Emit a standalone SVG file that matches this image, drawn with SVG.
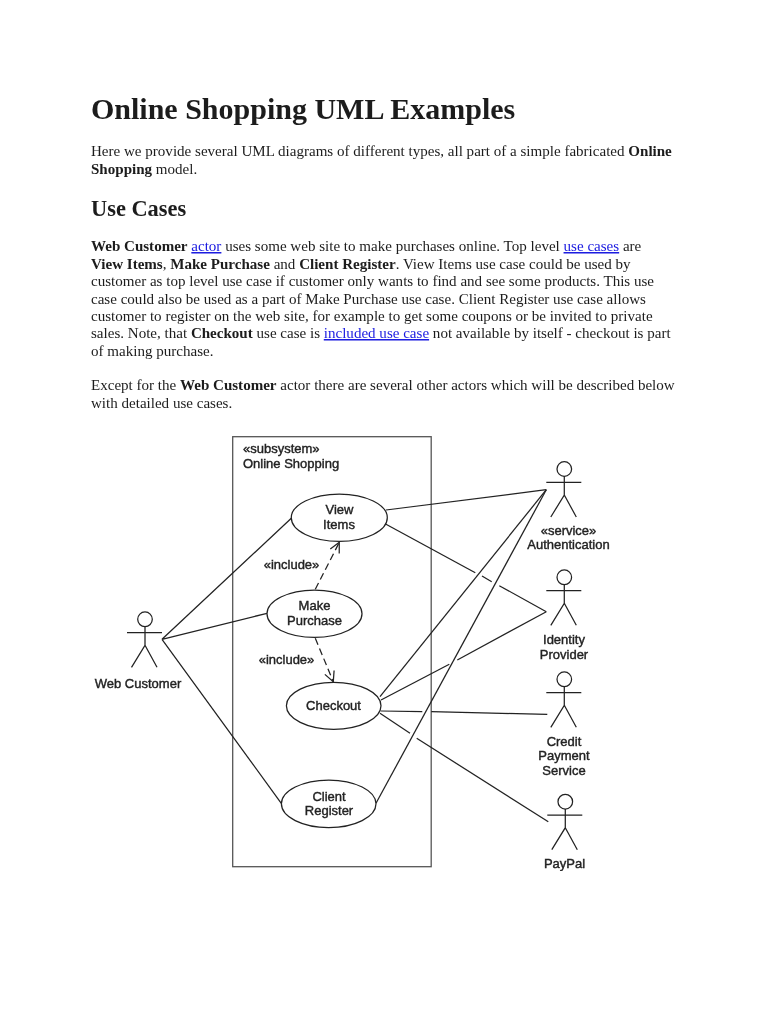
<svg xmlns="http://www.w3.org/2000/svg" width="768" height="1024" viewBox="0 0 768 1024">
<style>
text{font-family:"Liberation Serif","Times New Roman",serif;fill:#1c1c1c}
.p{font-size:15.05px}
.b{font-weight:bold}
.l{fill:#1a1ae0;text-decoration:underline}
.d{font-family:"Liberation Sans",Arial,sans-serif;font-size:13px;text-anchor:middle;fill:#222;stroke:#222;stroke-width:.4}
.s{fill:none;stroke:#222;stroke-width:1.25}
.u{fill:#fff;stroke:#222;stroke-width:1.25}
.dash{fill:none;stroke:#222;stroke-width:1.25;stroke-dasharray:7 4;marker-end:url(#open)}
</style>
<defs>
<filter id="soft" x="0" y="0" width="1" height="1"><feGaussianBlur stdDeviation="0.35"/></filter>
<marker id="open" markerUnits="userSpaceOnUse" markerWidth="16" markerHeight="16" refX="13" refY="8" orient="auto"><path d="M3 3L13 8L3 13" fill="none" stroke="#222" stroke-width="1.25"/></marker>
<g id="actor"><circle cx="0" cy="0" r="7.3" class="u"/><path class="s" d="M-18 13.3H17M0 7.3V26L-13.5 48M0 26L12 48"/></g>
</defs>
<rect width="768" height="1024" fill="#fff"/>
<g filter="url(#soft)">
<g id="page-text">
<text x="91" y="119" font-size="30" font-weight="bold">Online Shopping UML Examples</text>
<text class="p" x="91" y="156">Here we provide several UML diagrams of different types, all part of a simple fabricated <tspan class="b">Online</tspan></text>
<text class="p" x="91" y="174"><tspan class="b">Shopping</tspan> model.</text>
<text x="91" y="216" font-size="22.4" font-weight="bold">Use Cases</text>
<text class="p" x="91" y="251"><tspan class="b">Web Customer</tspan> <tspan class="l">actor</tspan> uses some web site to make purchases online. Top level <tspan class="l">use cases</tspan> are</text>
<text class="p" x="91" y="269"><tspan class="b">View Items</tspan>, <tspan class="b">Make Purchase</tspan> and <tspan class="b">Client Register</tspan>. View Items use case could be used by</text>
<text class="p" x="91" y="286">customer as top level use case if customer only wants to find and see some products. This use</text>
<text class="p" x="91" y="303.5">case could also be used as a part of Make Purchase use case. Client Register use case allows</text>
<text class="p" x="91" y="321">customer to register on the web site, for example to get some coupons or be invited to private</text>
<text class="p" x="91" y="338">sales. Note, that <tspan class="b">Checkout</tspan> use case is <tspan class="l">included use case</tspan> not available by itself - checkout is part</text>
<text class="p" x="91" y="355.5">of making purchase.</text>
<text class="p" x="91" y="390">Except for the <tspan class="b">Web Customer</tspan> actor there are several other actors which will be described below</text>
<text class="p" x="91" y="407.5">with detailed use cases.</text>
</g>
<g id="subsystem">
<rect x="232.7" y="436.7" width="198.5" height="430" fill="none" stroke="#555" stroke-width="1.3"/>
<text class="d" x="243" y="453" style="text-anchor:start">«subsystem»</text>
<text class="d" x="243" y="467.5" style="text-anchor:start">Online Shopping</text>
</g>
<g id="connectors">
<path class="s" d="M162 639.3L291.3 518.3M162 639.3L267 613.3M162 639.3L281.3 803.3"/>
<path class="s" d="M386 510L546.3 489.7"/>
<path class="s" d="M386 524.3L475.3 572.7M482 576L491.7 581.7M499.3 585.7L546.3 611.7"/>
<path class="s" d="M380 696.7L546.3 489.7"/>
<path class="s" d="M381 700L449.3 664.3M457.3 660L546.3 611.7"/>
<path class="s" d="M376 803.3L546.3 489.7"/>
<path class="s" d="M381 711L422.3 711.7M431.3 711.7L547.3 714.3"/>
<path class="s" d="M380 713.3L410 733.3M416.7 738.3L548.3 821.7"/>
<path class="dash" d="M315.3 589.3L339.3 542.3"/>
<path class="dash" d="M315.3 638.3L333.3 681.7"/>
</g>
<g id="view-items"><ellipse class="u" cx="339.3" cy="517.7" rx="48" ry="23.7"/><text class="d" x="339.5" y="514">View</text><text class="d" x="339" y="528.5">Items</text></g>
<g id="make-purchase"><ellipse class="u" cx="314.5" cy="613.7" rx="47.5" ry="23.7"/><text class="d" x="314.5" y="609.5">Make</text><text class="d" x="314.5" y="624.5">Purchase</text></g>
<g id="checkout"><ellipse class="u" cx="333.7" cy="705.8" rx="47.3" ry="23.5"/><text class="d" x="333.5" y="709.5">Checkout</text></g>
<g id="client-register"><ellipse class="u" cx="328.7" cy="803.8" rx="47.3" ry="23.8"/><text class="d" x="329" y="800.5">Client</text><text class="d" x="329" y="815">Register</text></g>
<text id="include-1" class="d" x="291.5" y="569">«include»</text>
<text id="include-2" class="d" x="286.5" y="664">«include»</text>
<g id="web-customer"><use href="#actor" x="145" y="619.3"/><text class="d" x="138" y="687.5">Web Customer</text></g>
<g id="authentication"><use href="#actor" x="564.3" y="469"/><text class="d" x="568.5" y="534.5">«service»</text><text class="d" x="568.5" y="549">Authentication</text></g>
<g id="identity-provider"><use href="#actor" x="564.3" y="577.3"/><text class="d" x="564" y="644">Identity</text><text class="d" x="564" y="658.5">Provider</text></g>
<g id="credit-payment"><use href="#actor" x="564.3" y="679.3"/><text class="d" x="564" y="745.5">Credit</text><text class="d" x="564" y="760">Payment</text><text class="d" x="564" y="774.5">Service</text></g>
<g id="paypal"><use href="#actor" x="565.3" y="801.7"/><text class="d" x="564.5" y="868">PayPal</text></g>
</g>
</svg>
